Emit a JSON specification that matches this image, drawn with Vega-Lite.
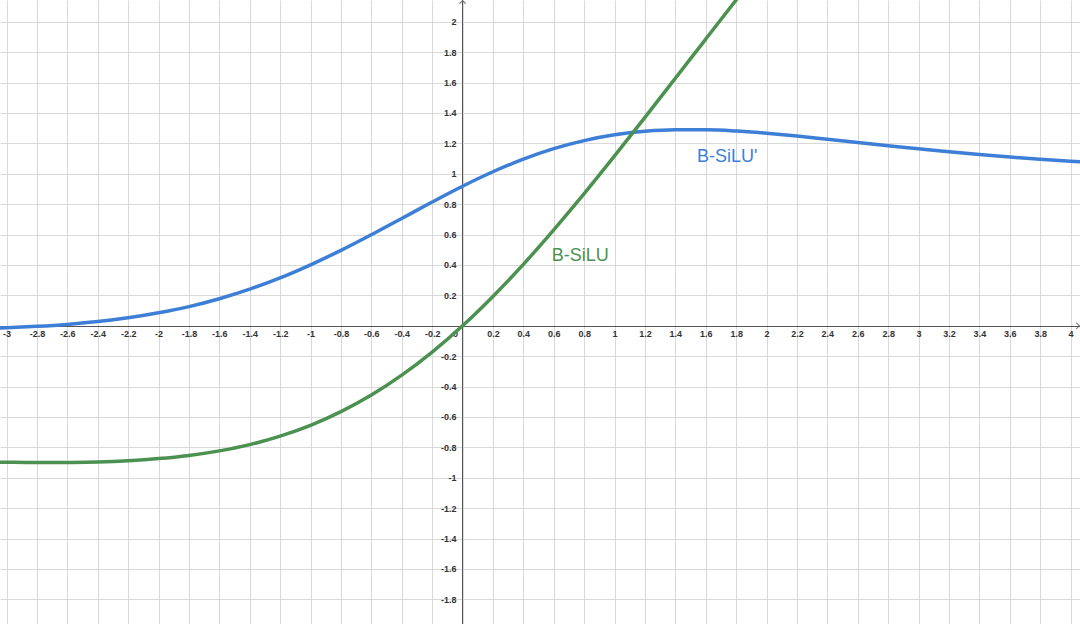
{
  "$schema": "https://vega.github.io/schema/vega-lite/v6.json",
  "width": 1080,
  "height": 624,
  "padding": 0,
  "autosize": {"type": "none"},
  "background": "#ffffff",
  "config": {
    "view": {"stroke": null},
    "axis": {
      "grid": true,
      "gridColor": "#d9d9d9",
      "gridWidth": 1,
      "domainColor": "#555555",
      "domainWidth": 1,
      "ticks": false,
      "labelFont": "Liberation Sans",
      "labelFontSize": 9,
      "labelFontWeight": "bold",
      "labelColor": "#333333",
      "labelOverlap": false,
      "labelFlush": false,
      "labelBound": false,
      "title": null
    }
  },
  "datasets": {
    "curves": [
      {"x": -3.2, "y": -0.018, "curve": "B-SiLU'"},
      {"x": -3.0, "y": -0.013, "curve": "B-SiLU'"},
      {"x": -2.8, "y": -0.004, "curve": "B-SiLU'"},
      {"x": -2.6, "y": 0.009, "curve": "B-SiLU'"},
      {"x": -2.4, "y": 0.028, "curve": "B-SiLU'"},
      {"x": -2.2, "y": 0.052, "curve": "B-SiLU'"},
      {"x": -2.0, "y": 0.085, "curve": "B-SiLU'"},
      {"x": -1.8, "y": 0.126, "curve": "B-SiLU'"},
      {"x": -1.6, "y": 0.178, "curve": "B-SiLU'"},
      {"x": -1.4, "y": 0.241, "curve": "B-SiLU'"},
      {"x": -1.2, "y": 0.315, "curve": "B-SiLU'"},
      {"x": -1.0, "y": 0.401, "curve": "B-SiLU'"},
      {"x": -0.8, "y": 0.496, "curve": "B-SiLU'"},
      {"x": -0.6, "y": 0.599, "curve": "B-SiLU'"},
      {"x": -0.4, "y": 0.706, "curve": "B-SiLU'"},
      {"x": -0.2, "y": 0.814, "curve": "B-SiLU'"},
      {"x": 0.0, "y": 0.918, "curve": "B-SiLU'"},
      {"x": 0.2, "y": 1.013, "curve": "B-SiLU'"},
      {"x": 0.4, "y": 1.096, "curve": "B-SiLU'"},
      {"x": 0.6, "y": 1.165, "curve": "B-SiLU'"},
      {"x": 0.8, "y": 1.218, "curve": "B-SiLU'"},
      {"x": 1.0, "y": 1.256, "curve": "B-SiLU'"},
      {"x": 1.2, "y": 1.279, "curve": "B-SiLU'"},
      {"x": 1.4, "y": 1.289, "curve": "B-SiLU'"},
      {"x": 1.6, "y": 1.289, "curve": "B-SiLU'"},
      {"x": 1.8, "y": 1.281, "curve": "B-SiLU'"},
      {"x": 2.0, "y": 1.266, "curve": "B-SiLU'"},
      {"x": 2.2, "y": 1.248, "curve": "B-SiLU'"},
      {"x": 2.4, "y": 1.227, "curve": "B-SiLU'"},
      {"x": 2.6, "y": 1.206, "curve": "B-SiLU'"},
      {"x": 2.8, "y": 1.184, "curve": "B-SiLU'"},
      {"x": 3.0, "y": 1.164, "curve": "B-SiLU'"},
      {"x": 3.2, "y": 1.144, "curve": "B-SiLU'"},
      {"x": 3.4, "y": 1.126, "curve": "B-SiLU'"},
      {"x": 3.6, "y": 1.110, "curve": "B-SiLU'"},
      {"x": 3.8, "y": 1.095, "curve": "B-SiLU'"},
      {"x": 4.0, "y": 1.082, "curve": "B-SiLU'"},
      {"x": 4.2, "y": 1.071, "curve": "B-SiLU'"},
      {"x": -3.2, "y": -0.895, "curve": "B-SiLU"},
      {"x": -3.0, "y": -0.898, "curve": "B-SiLU"},
      {"x": -2.8, "y": -0.900, "curve": "B-SiLU"},
      {"x": -2.6, "y": -0.899, "curve": "B-SiLU"},
      {"x": -2.4, "y": -0.896, "curve": "B-SiLU"},
      {"x": -2.2, "y": -0.888, "curve": "B-SiLU"},
      {"x": -2.0, "y": -0.874, "curve": "B-SiLU"},
      {"x": -1.8, "y": -0.853, "curve": "B-SiLU"},
      {"x": -1.6, "y": -0.823, "curve": "B-SiLU"},
      {"x": -1.4, "y": -0.782, "curve": "B-SiLU"},
      {"x": -1.2, "y": -0.726, "curve": "B-SiLU"},
      {"x": -1.0, "y": -0.655, "curve": "B-SiLU"},
      {"x": -0.8, "y": -0.565, "curve": "B-SiLU"},
      {"x": -0.6, "y": -0.456, "curve": "B-SiLU"},
      {"x": -0.4, "y": -0.325, "curve": "B-SiLU"},
      {"x": -0.2, "y": -0.173, "curve": "B-SiLU"},
      {"x": 0.0, "y": 0.0, "curve": "B-SiLU"},
      {"x": 0.2, "y": 0.193, "curve": "B-SiLU"},
      {"x": 0.4, "y": 0.404, "curve": "B-SiLU"},
      {"x": 0.6, "y": 0.631, "curve": "B-SiLU"},
      {"x": 0.8, "y": 0.869, "curve": "B-SiLU"},
      {"x": 1.0, "y": 1.117, "curve": "B-SiLU"},
      {"x": 1.2, "y": 1.371, "curve": "B-SiLU"},
      {"x": 1.4, "y": 1.628, "curve": "B-SiLU"},
      {"x": 1.6, "y": 1.886, "curve": "B-SiLU"},
      {"x": 1.8, "y": 2.143, "curve": "B-SiLU"},
      {"x": 2.0, "y": 2.398, "curve": "B-SiLU"}
    ],
    "labels": [
      {"x": 1.543, "y": 1.077, "curve": "B-SiLU'"},
      {"x": 0.587, "y": 0.426, "curve": "B-SiLU"}
    ],
    "arrows": [
      {"x": 4.058, "y": 0, "dir": "right"},
      {"x": 0, "y": 2.139, "dir": "up"}
    ]
  },
  "encoding": {
    "x": {
      "field": "x",
      "type": "quantitative",
      "scale": {"domain": [-3.043, 4.062], "nice": false, "zero": false},
      "axis": {
        "orient": "bottom",
        "offset": -298,
        "values": [-3, -2.8, -2.6, -2.4, -2.2, -2, -1.8, -1.6, -1.4, -1.2, -1, -0.8, -0.6, -0.4, -0.2, 0, 0.2, 0.4, 0.6, 0.8, 1, 1.2, 1.4, 1.6, 1.8, 2, 2.2, 2.4, 2.6, 2.8, 3, 3.2, 3.4, 3.6, 3.8, 4],
        "labelExpr": "datum.value < 0 ? '-' + format(-datum.value, '~g') : format(datum.value, '~g')",
        "labelPadding": 3,
        "labelAlign": {"condition": {"test": "datum.value === 0", "value": "right"}, "value": "center"},
        "labelOffset": {"condition": {"test": "datum.value === 0", "value": -5}, "value": 0}
      }
    },
    "y": {
      "field": "y",
      "type": "quantitative",
      "scale": {"domain": [-1.962, 2.143], "nice": false, "zero": false},
      "axis": {
        "orient": "left",
        "offset": -462,
        "values": [-1.8, -1.6, -1.4, -1.2, -1, -0.8, -0.6, -0.4, -0.2, 0.2, 0.4, 0.6, 0.8, 1, 1.2, 1.4, 1.6, 1.8, 2],
        "labelExpr": "datum.value < 0 ? '-' + format(-datum.value, '~g') : format(datum.value, '~g')",
        "labelPadding": 6
      }
    }
  },
  "layer": [
    {
      "data": {"name": "curves"},
      "mark": {"type": "line", "clip": true, "interpolate": "monotone", "strokeWidth": 3.5},
      "encoding": {
        "color": {
          "field": "curve",
          "type": "nominal",
          "scale": {"domain": ["B-SiLU'", "B-SiLU"], "range": ["#3d7fd6", "#4b914f"]},
          "legend": null
        }
      }
    },
    {
      "data": {"name": "labels"},
      "mark": {"type": "text", "align": "left", "baseline": "alphabetic", "font": "Liberation Sans", "fontSize": 18},
      "encoding": {
        "text": {"field": "curve"},
        "color": {
          "field": "curve",
          "type": "nominal",
          "scale": {"domain": ["B-SiLU'", "B-SiLU"], "range": ["#3d7fd6", "#4b914f"]},
          "legend": null
        }
      }
    },
    {
      "data": {"name": "arrows"},
      "mark": {"type": "point", "filled": false, "size": 40, "stroke": "#555555", "strokeWidth": 1.2},
      "encoding": {
        "shape": {
          "field": "dir",
          "type": "nominal",
          "scale": {"domain": ["right", "up"], "range": ["M-1,-1L0,0L-1,1", "M-1,1L0,0L1,1"]},
          "legend": null
        }
      }
    }
  ]
}
